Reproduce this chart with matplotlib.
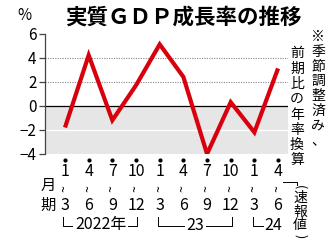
import numpy as np
import matplotlib
matplotlib.use("Agg")
import matplotlib.pyplot as plt
import matplotlib.transforms as mtrans

plt.rcParams['font.family'] = ['Noto Sans CJK JP', 'DejaVu Sans']

# quarterly data, annualized q/q %
q_start = ["1", "4", "7", "10", "1", "4", "7", "10", "1", "4"]
q_end = ["3", "6", "9", "12", "3", "6", "9", "12", "3", "6"]
growth = [-1.8, 4.2, -1.2, 1.7, 5.1, 2.4, -4.0, 0.3, -2.2, 3.1]
years = [("2022年", 0, 3), ("23", 4, 7), ("24", 8, None)]
y_ticks = [-4, -2, 0, 2, 4, 6]

W, H = 335, 244
fig = plt.figure(figsize=(W / 100, H / 100), dpi=100)
ax = fig.add_axes([45 / W, 1 - 154 / H, 243 / W, 120.5 / H])

x = np.arange(len(growth))
ax.set_xlim(-0.845, 9.42)
ax.set_ylim(-4, 6)

ax.axhspan(-4, 0, color="#e6e6e6", lw=0, zorder=0)
ax.axhline(-2, color="white", lw=1.0, zorder=1)
ax.axhline(0, color="black", lw=0.9, zorder=2)
for g in [2, 4]:
    ax.axhline(g, color="#888888", lw=0.8, ls=(0, (1, 1.2)), zorder=1)

ax.plot(x, growth, color="#d9000d", lw=3.0, solid_joinstyle="miter",
        solid_capstyle="butt", zorder=3)

for s in ["top", "right", "bottom"]:
    ax.spines[s].set_visible(False)
ax.spines["left"].set_color("#444444")
ax.spines["left"].set_linewidth(0.9)
ax.set_xticks([])
ax.set_yticks(y_ticks)
ax.set_yticklabels([str(v).replace("-", "−") for v in y_ticks], fontsize=11)
ax.tick_params(axis="y", direction="out", length=4, width=0.9,
               color="#444444", pad=2)

# x labels below the axes: x in data, y in figure fraction
tr = mtrans.blended_transform_factory(ax.transData, fig.transFigure)


def fy(p):
    return 1 - p / H


ax.scatter(x, [fy(160)] * len(x), s=4, color="black", transform=tr,
           clip_on=False, zorder=4)
for i in x:
    ax.text(i, fy(171), q_start[i], transform=tr, ha="center", va="center",
            fontsize=11.5)
    ax.text(i, fy(188), "~", transform=tr, ha="center", va="center",
            fontsize=9, rotation=90)
    ax.text(i, fy(205), q_end[i], transform=tr, ha="center", va="center",
            fontsize=11.5)

fig.text(48 / W, fy(185), "月", ha="center", va="center", fontsize=11)
fig.text(48 / W, fy(205), "期", ha="center", va="center", fontsize=11)

# year brackets
for label, a, b in years:
    if b is None:
        ax.plot([a - 0.04, a - 0.04, a + 0.38], [fy(217), fy(226), fy(226)],
                color="black", lw=0.7, transform=tr, clip_on=False)
        ax.text(a + 0.4, fy(226), label, transform=tr, ha="left",
                va="center", fontsize=11.5)
    else:
        ax.plot([a - 0.08, a - 0.08, b + 0.04, b + 0.04],
                [fy(217), fy(226), fy(226), fy(217)],
                color="black", lw=0.7, transform=tr, clip_on=False)
        ax.text((a + b) / 2, fy(225), label, transform=tr, ha="center",
                va="center", fontsize=11.5,
                bbox=dict(facecolor="white", edgecolor="none", pad=1.0))

# preliminary marker
ax.plot([9.2, 9.78, 9.78], [fy(182), fy(182), fy(185)], color="black",
        lw=0.7, transform=tr, clip_on=False)
fig.text(300 / W, fy(187), "(", ha="center", va="center", fontsize=9,
         rotation=-90)
for k, ch in enumerate("速報値"):
    fig.text(300 / W, fy(198 + 13.5 * k), ch, ha="center", va="center",
             fontsize=10)
fig.text(300 / W, fy(236), ")", ha="center", va="center", fontsize=9,
         rotation=-90)

# title and unit
fig.text(183 / W, fy(17), "実質ＧＤＰ成長率の推移", ha="center", va="center",
         fontsize=15.5, fontweight="bold")
fig.text(24 / W, fy(15), "%", ha="center", va="center", fontsize=11)

# vertical note
for k, ch in enumerate("※季節調整済み、"):
    fig.text(318 / W, fy(37 + 14.8 * k), ch, ha="center", va="center",
             fontsize=10)
for k, ch in enumerate("前期比の年率換算"):
    fig.text(297 / W, fy(53 + 15.4 * k), ch, ha="center", va="center",
             fontsize=10)

fig.savefig("out.png", dpi=100)
